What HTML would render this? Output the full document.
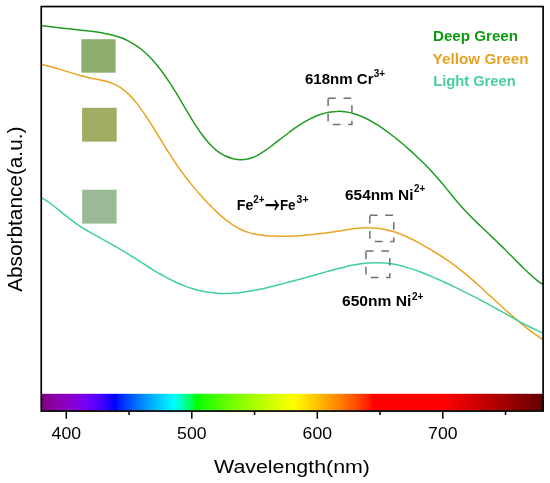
<!DOCTYPE html>
<html lang="en">
<head>
<meta charset="utf-8">
<title>Absorbance spectra</title>
<style>
html,body{margin:0;padding:0;background:#fff;}
body{width:550px;height:483px;overflow:hidden;}
svg{display:block;}
text{font-family:"Liberation Sans",sans-serif;}
.b{font-weight:bold;}
</style>
</head>
<body>
<svg width="550" height="483" viewBox="0 0 550 483">
<defs>
<linearGradient id="spec" x1="0" y1="0" x2="1" y2="0"><stop offset="0.0000" stop-color="#7f007f"/><stop offset="0.0123" stop-color="#870091"/><stop offset="0.0246" stop-color="#8c00a2"/><stop offset="0.0369" stop-color="#8d00b2"/><stop offset="0.0492" stop-color="#8c00c2"/><stop offset="0.0615" stop-color="#8800d2"/><stop offset="0.0737" stop-color="#8100e1"/><stop offset="0.0860" stop-color="#7700f0"/><stop offset="0.0983" stop-color="#6a00ff"/><stop offset="0.1106" stop-color="#5400ff"/><stop offset="0.1229" stop-color="#3d00ff"/><stop offset="0.1352" stop-color="#2300ff"/><stop offset="0.1475" stop-color="#0000ff"/><stop offset="0.1592" stop-color="#0028ff"/><stop offset="0.1710" stop-color="#0046ff"/><stop offset="0.1828" stop-color="#0061ff"/><stop offset="0.1945" stop-color="#007bff"/><stop offset="0.2062" stop-color="#0092ff"/><stop offset="0.2180" stop-color="#00a9ff"/><stop offset="0.2297" stop-color="#00c0ff"/><stop offset="0.2415" stop-color="#00d5ff"/><stop offset="0.2533" stop-color="#00eaff"/><stop offset="0.2650" stop-color="#00ffff"/><stop offset="0.2762" stop-color="#00ffcb"/><stop offset="0.2875" stop-color="#00ff92"/><stop offset="0.2988" stop-color="#00ff54"/><stop offset="0.3100" stop-color="#00ff00"/><stop offset="0.3237" stop-color="#1fff00"/><stop offset="0.3375" stop-color="#36ff00"/><stop offset="0.3513" stop-color="#4aff00"/><stop offset="0.3650" stop-color="#5eff00"/><stop offset="0.3787" stop-color="#70ff00"/><stop offset="0.3925" stop-color="#81ff00"/><stop offset="0.4062" stop-color="#92ff00"/><stop offset="0.4200" stop-color="#a3ff00"/><stop offset="0.4338" stop-color="#b3ff00"/><stop offset="0.4475" stop-color="#c3ff00"/><stop offset="0.4612" stop-color="#d2ff00"/><stop offset="0.4750" stop-color="#e1ff00"/><stop offset="0.4888" stop-color="#f0ff00"/><stop offset="0.5025" stop-color="#ffff00"/><stop offset="0.5148" stop-color="#ffef00"/><stop offset="0.5271" stop-color="#ffdf00"/><stop offset="0.5394" stop-color="#ffcf00"/><stop offset="0.5517" stop-color="#ffbe00"/><stop offset="0.5640" stop-color="#ffad00"/><stop offset="0.5763" stop-color="#ff9b00"/><stop offset="0.5887" stop-color="#ff8900"/><stop offset="0.6010" stop-color="#ff7700"/><stop offset="0.6133" stop-color="#ff6300"/><stop offset="0.6256" stop-color="#ff4f00"/><stop offset="0.6379" stop-color="#ff3900"/><stop offset="0.6502" stop-color="#ff2100"/><stop offset="0.6625" stop-color="#ff0000"/><stop offset="0.6750" stop-color="#ff0000"/><stop offset="0.6875" stop-color="#ff0000"/><stop offset="0.7000" stop-color="#ff0000"/><stop offset="0.7125" stop-color="#ff0000"/><stop offset="0.7250" stop-color="#ff0000"/><stop offset="0.7375" stop-color="#ff0000"/><stop offset="0.7500" stop-color="#ff0000"/><stop offset="0.7625" stop-color="#ff0000"/><stop offset="0.7750" stop-color="#ff0000"/><stop offset="0.7875" stop-color="#ff0000"/><stop offset="0.8000" stop-color="#ff0000"/><stop offset="0.8125" stop-color="#f60000"/><stop offset="0.8250" stop-color="#ed0000"/><stop offset="0.8375" stop-color="#e40000"/><stop offset="0.8500" stop-color="#db0000"/><stop offset="0.8625" stop-color="#d10000"/><stop offset="0.8750" stop-color="#c80000"/><stop offset="0.8875" stop-color="#be0000"/><stop offset="0.9000" stop-color="#b50000"/><stop offset="0.9125" stop-color="#ab0000"/><stop offset="0.9250" stop-color="#a10000"/><stop offset="0.9375" stop-color="#970000"/><stop offset="0.9500" stop-color="#8d0000"/><stop offset="0.9625" stop-color="#820000"/><stop offset="0.9750" stop-color="#770000"/><stop offset="0.9875" stop-color="#6d0000"/><stop offset="1.0000" stop-color="#610000"/></linearGradient>
<clipPath id="clip"><rect x="41.2" y="6.5" width="501.9" height="404"/></clipPath>
</defs>
<rect x="0" y="0" width="550" height="483" fill="#ffffff"/>
<!-- spectrum bar -->
<rect x="41.2" y="393.8" width="501.9" height="17" fill="url(#spec)"/>
<!-- swatches -->
<rect x="81.4" y="39.2" width="34.2" height="33.5" fill="#8dae6c"/>
<rect x="82.1" y="107.8" width="34.6" height="33.8" fill="#a2ab62"/>
<rect x="82.2" y="189.7" width="34.4" height="33.9" fill="#9aba95"/>
<!-- curves -->
<g clip-path="url(#clip)" fill="none" stroke-width="1.5" stroke-linejoin="round">
<path id="cg" d="M41.0 25.8C42.3 25.9 46.3 26.3 49.0 26.6C51.7 26.9 54.3 27.2 57.0 27.5C59.7 27.8 62.3 28.1 65.0 28.4C67.7 28.7 70.3 29.0 73.0 29.3C75.7 29.6 78.3 29.9 81.0 30.2C83.7 30.5 86.3 30.7 89.0 31.1C91.7 31.4 94.3 31.7 97.0 32.1C99.7 32.5 102.3 32.9 105.0 33.5C107.7 34.0 110.3 34.6 113.0 35.3C115.7 36.0 118.3 36.8 121.0 37.8C123.7 38.8 126.3 40.0 129.0 41.4C131.7 42.8 134.3 44.3 137.0 46.2C139.7 48.0 142.3 50.1 145.0 52.5C147.7 54.9 150.3 57.5 153.0 60.4C155.7 63.4 158.3 66.6 161.0 70.2C163.7 73.7 166.3 77.5 169.0 81.6C171.7 85.6 174.3 89.9 177.0 94.3C179.7 98.7 182.3 103.3 185.0 107.8C187.7 112.2 190.3 116.9 193.0 121.1C195.7 125.4 198.3 129.5 201.0 133.2C203.7 136.9 206.3 140.3 209.0 143.3C211.7 146.2 214.3 148.7 217.0 150.8C219.7 152.8 222.3 154.4 225.0 155.8C227.7 157.1 230.3 158.0 233.0 158.7C235.7 159.3 238.3 159.7 241.0 159.7C243.7 159.7 246.3 159.4 249.0 158.7C251.7 158.0 254.3 156.9 257.0 155.6C259.7 154.2 262.3 152.5 265.0 150.7C267.7 148.9 270.3 146.8 273.0 144.8C275.7 142.8 278.3 140.6 281.0 138.6C283.7 136.5 286.3 134.4 289.0 132.5C291.7 130.5 294.3 128.5 297.0 126.7C299.7 124.9 302.3 123.2 305.0 121.7C307.7 120.1 310.3 118.7 313.0 117.5C315.7 116.2 318.3 115.1 321.0 114.3C323.7 113.4 326.3 112.7 329.0 112.2C331.7 111.7 334.3 111.4 337.0 111.4C339.7 111.3 342.3 111.4 345.0 111.8C347.7 112.1 350.3 112.6 353.0 113.4C355.7 114.1 358.3 115.1 361.0 116.2C363.7 117.3 366.3 118.6 369.0 120.0C371.7 121.4 374.3 123.0 377.0 124.7C379.7 126.3 382.3 128.2 385.0 130.1C387.7 131.9 390.3 133.9 393.0 136.0C395.7 138.1 398.3 140.3 401.0 142.5C403.7 144.7 406.3 147.0 409.0 149.4C411.7 151.8 414.3 154.2 417.0 156.7C419.7 159.2 422.3 161.8 425.0 164.5C427.7 167.2 430.3 170.0 433.0 172.9C435.7 175.8 438.3 178.9 441.0 182.0C443.7 185.2 446.3 188.5 449.0 191.7C451.7 195.0 454.3 198.3 457.0 201.4C459.7 204.5 462.3 207.6 465.0 210.5C467.7 213.4 470.3 216.1 473.0 218.8C475.7 221.4 478.3 224.0 481.0 226.5C483.7 229.0 486.3 231.5 489.0 234.0C491.7 236.6 494.3 239.1 497.0 241.7C499.7 244.3 502.3 246.9 505.0 249.5C507.7 252.2 510.3 254.9 513.0 257.5C515.7 260.2 518.3 263.0 521.0 265.6C523.7 268.2 526.3 270.9 529.0 273.3C531.7 275.8 534.7 278.4 537.0 280.3C539.3 282.2 542.0 283.9 543.0 284.6" stroke="#1f9c1f"/>
<path id="co" d="M41.0 64.3C42.3 64.6 46.3 65.5 49.0 66.2C51.7 66.9 54.3 67.7 57.0 68.4C59.7 69.2 62.3 70.1 65.0 70.9C67.7 71.7 70.3 72.6 73.0 73.4C75.7 74.2 78.3 75.0 81.0 75.7C83.7 76.4 86.3 77.1 89.0 77.7C91.7 78.3 94.3 78.8 97.0 79.3C99.7 79.9 102.3 80.4 105.0 81.1C107.7 81.8 110.3 82.5 113.0 83.6C115.7 84.8 118.3 86.1 121.0 87.9C123.7 89.8 126.3 92.0 129.0 94.6C131.7 97.2 134.3 100.3 137.0 103.6C139.7 107.0 142.3 110.8 145.0 114.7C147.7 118.6 150.3 122.8 153.0 127.0C155.7 131.3 158.3 135.7 161.0 140.1C163.7 144.4 166.3 148.7 169.0 152.9C171.7 157.1 174.3 161.2 177.0 165.1C179.7 168.9 182.3 172.7 185.0 176.2C187.7 179.8 190.3 183.1 193.0 186.4C195.7 189.6 198.3 192.6 201.0 195.6C203.7 198.6 206.3 201.5 209.0 204.2C211.7 207.0 214.3 209.6 217.0 212.1C219.7 214.6 222.3 217.0 225.0 219.2C227.7 221.3 230.3 223.3 233.0 225.1C235.7 226.8 238.3 228.3 241.0 229.5C243.7 230.8 246.3 231.8 249.0 232.6C251.7 233.4 254.3 234.0 257.0 234.5C259.7 235.0 262.3 235.3 265.0 235.6C267.7 235.8 270.3 236.0 273.0 236.1C275.7 236.2 278.3 236.3 281.0 236.3C283.7 236.3 286.3 236.3 289.0 236.2C291.7 236.1 294.3 236.0 297.0 235.9C299.7 235.7 302.3 235.5 305.0 235.3C307.7 235.1 310.3 234.9 313.0 234.6C315.7 234.3 318.3 234.0 321.0 233.6C323.7 233.3 326.3 232.9 329.0 232.5C331.7 232.1 334.3 231.7 337.0 231.3C339.7 230.9 342.3 230.4 345.0 230.0C347.7 229.6 350.3 229.2 353.0 228.8C355.7 228.5 358.3 228.2 361.0 228.0C363.7 227.8 366.3 227.7 369.0 227.8C371.7 227.8 374.3 227.9 377.0 228.2C379.7 228.5 382.3 228.9 385.0 229.4C387.7 230.0 390.3 230.7 393.0 231.5C395.7 232.3 398.3 233.2 401.0 234.3C403.7 235.3 406.3 236.5 409.0 237.8C411.7 239.1 414.3 240.4 417.0 241.9C419.7 243.3 422.3 244.8 425.0 246.3C427.7 247.8 430.3 249.4 433.0 251.0C435.7 252.6 438.3 254.3 441.0 256.0C443.7 257.7 446.3 259.5 449.0 261.4C451.7 263.2 454.3 265.2 457.0 267.2C459.7 269.2 462.3 271.4 465.0 273.6C467.7 275.7 470.3 278.0 473.0 280.4C475.7 282.7 478.3 285.1 481.0 287.5C483.7 289.9 486.3 292.4 489.0 294.9C491.7 297.3 494.3 299.8 497.0 302.2C499.7 304.7 502.3 307.1 505.0 309.5C507.7 311.9 510.3 314.3 513.0 316.6C515.7 319.0 518.3 321.2 521.0 323.4C523.7 325.6 526.3 327.8 529.0 329.8C531.7 331.8 534.7 334.0 537.0 335.7C539.3 337.3 542.0 339.0 543.0 339.7" stroke="#eaa421"/>
<path id="ct" d="M41.0 197.5C42.3 198.3 46.3 200.5 49.0 202.4C51.7 204.2 54.3 206.5 57.0 208.6C59.7 210.7 62.3 213.0 65.0 215.1C67.7 217.2 70.3 219.4 73.0 221.3C75.7 223.3 78.3 225.1 81.0 226.8C83.7 228.6 86.3 230.1 89.0 231.7C91.7 233.3 94.3 234.7 97.0 236.2C99.7 237.7 102.3 239.1 105.0 240.6C107.7 242.1 110.3 243.5 113.0 245.1C115.7 246.6 118.3 248.1 121.0 249.7C123.7 251.3 126.3 252.9 129.0 254.6C131.7 256.2 134.3 257.9 137.0 259.6C139.7 261.3 142.3 263.1 145.0 264.7C147.7 266.4 150.3 268.1 153.0 269.8C155.7 271.4 158.3 273.0 161.0 274.5C163.7 276.0 166.3 277.5 169.0 278.9C171.7 280.3 174.3 281.6 177.0 282.8C179.7 284.0 182.3 285.1 185.0 286.1C187.7 287.1 190.3 288.0 193.0 288.8C195.7 289.6 198.3 290.3 201.0 290.9C203.7 291.5 206.3 292.0 209.0 292.3C211.7 292.7 214.3 293.0 217.0 293.2C219.7 293.3 222.3 293.4 225.0 293.4C227.7 293.4 230.3 293.3 233.0 293.2C235.7 293.0 238.3 292.8 241.0 292.4C243.7 292.1 246.3 291.8 249.0 291.3C251.7 290.9 254.3 290.4 257.0 289.9C259.7 289.4 262.3 288.8 265.0 288.2C267.7 287.6 270.3 286.9 273.0 286.2C275.7 285.6 278.3 284.9 281.0 284.2C283.7 283.5 286.3 282.7 289.0 282.0C291.7 281.3 294.3 280.6 297.0 279.9C299.7 279.1 302.3 278.4 305.0 277.7C307.7 276.9 310.3 276.2 313.0 275.5C315.7 274.7 318.3 274.0 321.0 273.3C323.7 272.5 326.3 271.8 329.0 271.0C331.7 270.3 334.3 269.6 337.0 268.9C339.7 268.2 342.3 267.5 345.0 266.9C347.7 266.2 350.3 265.6 353.0 265.1C355.7 264.6 358.3 264.2 361.0 263.8C363.7 263.4 366.3 263.1 369.0 262.9C371.7 262.8 374.3 262.7 377.0 262.7C379.7 262.7 382.3 262.8 385.0 263.1C387.7 263.3 390.3 263.7 393.0 264.1C395.7 264.6 398.3 265.2 401.0 265.8C403.7 266.5 406.3 267.2 409.0 268.1C411.7 268.9 414.3 269.8 417.0 270.7C419.7 271.7 422.3 272.7 425.0 273.8C427.7 274.8 430.3 275.9 433.0 277.1C435.7 278.2 438.3 279.4 441.0 280.6C443.7 281.8 446.3 283.1 449.0 284.3C451.7 285.6 454.3 286.8 457.0 288.1C459.7 289.4 462.3 290.7 465.0 292.1C467.7 293.4 470.3 294.7 473.0 296.1C475.7 297.5 478.3 298.9 481.0 300.3C483.7 301.7 486.3 303.1 489.0 304.6C491.7 306.0 494.3 307.5 497.0 309.0C499.7 310.5 502.3 312.0 505.0 313.4C507.7 314.9 510.3 316.5 513.0 317.9C515.7 319.4 518.3 320.9 521.0 322.3C523.7 323.8 526.3 325.2 529.0 326.5C531.7 327.9 534.7 329.3 537.0 330.4C539.3 331.5 542.0 332.5 543.0 333.0" stroke="#3fcf9f"/>
</g>
<!-- marker boxes -->
<g fill="none" stroke="#707070" stroke-width="1.5" stroke-dasharray="7.7 7.7">
<rect x="328.1" y="98.3" width="23.8" height="26.3"/>
<rect x="369.8" y="215.2" width="24" height="26.3"/>
<rect x="365.9" y="251" width="23.9" height="26.4"/>
</g>
<!-- frame -->
<rect x="41.25" y="6.55" width="501.85" height="404.5" fill="none" stroke="#000" stroke-width="1.7"/>
<!-- ticks -->
<g stroke="#000" stroke-width="1.5" fill="none">
<path d="M66.3 411V418.8M191.8 411V418.8M317.3 411V418.8M442.8 411V418.8"/>
<path d="M129.05 411V415.1M254.55 411V415.1M380.05 411V415.1M505.55 411V415.1"/>
</g>
<!-- tick labels -->
<g font-size="16.2" fill="#000" text-anchor="middle">
<text x="66.3" y="438.7" textLength="29.4" lengthAdjust="spacingAndGlyphs">400</text>
<text x="191.8" y="438.7" textLength="29.4" lengthAdjust="spacingAndGlyphs">500</text>
<text x="317.3" y="438.7" textLength="29.4" lengthAdjust="spacingAndGlyphs">600</text>
<text x="442.8" y="438.7" textLength="29.4" lengthAdjust="spacingAndGlyphs">700</text>
</g>
<!-- axis titles -->
<text x="214" y="472.9" font-size="18.7" fill="#000" textLength="156" lengthAdjust="spacingAndGlyphs">Wavelength(nm)</text>
<text transform="translate(22 291.8) rotate(-90)" font-size="20.3" fill="#000" textLength="165.2" lengthAdjust="spacingAndGlyphs">Absorbtance(a.u.)</text>
<!-- legend -->
<g class="b" font-size="15.2">
<text x="433" y="40.8" fill="#0f970f" textLength="85" lengthAdjust="spacingAndGlyphs">Deep Green</text>
<text x="432.6" y="63.7" fill="#eaa221" textLength="96" lengthAdjust="spacingAndGlyphs">Yellow Green</text>
<text x="433.2" y="86.2" fill="#46cfa0" textLength="82.5" lengthAdjust="spacingAndGlyphs">Light Green</text>
</g>
<!-- annotations -->
<g class="b" fill="#000" font-size="15.1">
<text x="305" y="84" textLength="68.5" lengthAdjust="spacingAndGlyphs">618nm Cr</text>
<text x="373.8" y="77.4" font-size="10.6" textLength="11.4" lengthAdjust="spacingAndGlyphs">3+</text>
<text x="345" y="199.8" textLength="68.5" lengthAdjust="spacingAndGlyphs">654nm Ni</text>
<text x="414.1" y="192.3" font-size="10.6" textLength="11.2" lengthAdjust="spacingAndGlyphs">2+</text>
<text x="342" y="306" textLength="69.3" lengthAdjust="spacingAndGlyphs">650nm Ni</text>
<text x="412" y="299.6" font-size="10.4" textLength="11.4" lengthAdjust="spacingAndGlyphs">2+</text>
<text x="236.8" y="209.5" textLength="16.5" lengthAdjust="spacingAndGlyphs">Fe</text>
<text x="253.3" y="202.8" font-size="10.3" textLength="11.2" lengthAdjust="spacingAndGlyphs">2+</text>
<text x="264.9" y="212.9" font-size="21.5" style="font-family:'Noto Sans CJK SC','DejaVu Sans',sans-serif" textLength="15" lengthAdjust="spacingAndGlyphs">→</text>
<text x="279.9" y="209.5" textLength="15.6" lengthAdjust="spacingAndGlyphs">Fe</text>
<text x="296.6" y="202.8" font-size="10.3" textLength="12" lengthAdjust="spacingAndGlyphs">3+</text>
</g>
</svg>
</body>
</html>
